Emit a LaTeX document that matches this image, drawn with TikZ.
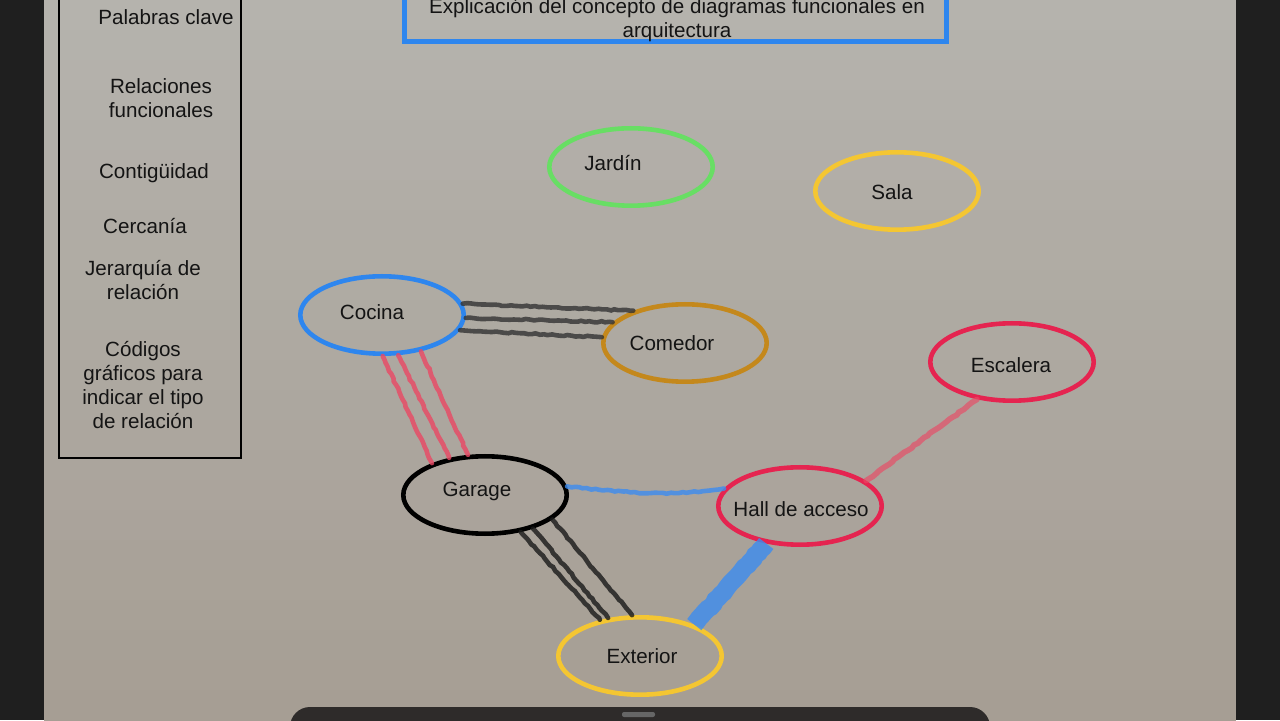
\documentclass[tikz,border=0pt]{standalone}
\usepackage{fontspec}
\setmainfont{Liberation Sans}
\usetikzlibrary{shapes.geometric,decorations.pathmorphing}

\definecolor{paperTop}{RGB}{181,179,173}
\definecolor{paperBot}{RGB}{166,158,148}
\definecolor{penBlue}{RGB}{46,134,238}
\definecolor{penGreen}{RGB}{104,222,100}
\definecolor{penYellow}{RGB}{244,198,50}
\definecolor{penBrown}{RGB}{196,136,28}
\definecolor{penRed}{RGB}{229,36,80}
\definecolor{crayonRed}{RGB}{234,72,100}
\definecolor{crayonBlue}{RGB}{60,140,240}
\definecolor{barGrey}{RGB}{46,43,42}

\begin{document}
\begin{tikzpicture}[x=0.5pt, y=-0.5pt, font=\fontsize{10.3}{12}\selectfont]
        \tikzstyle{room}=[ellipse,line width=2.3pt,minimum width=81.7pt,minimum height=38.7pt,inner sep=0pt]
        \tikzstyle{word}=[inner sep=0pt,align=center,text=black!92]
        \tikzstyle{crayon}=[line width=2.3pt,line cap=round,opacity=0.8,decorate,decoration={random steps,segment length=2pt,amplitude=0.35pt}]

        % sheet
        \fill[black!88] (0,0) rectangle (1280,720);
        \foreach \i in {0,...,23} {
            \pgfmathtruncatemacro{\pct}{100-\i*100/23}
            \fill[paperTop!\pct!paperBot] (44,\i*30) rectangle (1236,\i*30+31);
        }
        \useasboundingbox (0,0) rectangle (1280,720);
        \fill[barGrey, rounded corners=10pt] (290,707) rectangle (990,745);
        \fill[black!60, rounded corners=1pt] (622,712) rectangle (655,717);

        % key words and title
        \draw[line width=0.8pt] (59,-5) rectangle (241,458);
        \draw[penBlue, line width=2.5pt] (404,-5) rectangle (946,42);
        \node[word] (T_title) at (677,20) {Explicación del concepto de diagramas funcionales en\\[0pt]arquitectura};
        \node[word] (K_1) at (166,17) {Palabras clave};
        \node[word] (K_2) at (161,98) {Relaciones\\funcionales};
        \node[word] (K_3) at (154,173) {Contigüidad};
        \node[word] (K_4) at (145,226) {Cercanía};
        \node[word] (K_5) at (143,280) {Jerarquía de\\relación};
        \node[word] (K_6) at (143,385) {Códigos\\gráficos para\\indicar el tipo\\de relación};

        % rooms
        \node[room,draw=penGreen] (R_jardin) at (631,167) {};
        \node[room,draw=penYellow] (R_sala) at (897,191) {};
        \node[room,draw=penBlue] (R_cocina) at (382,315) {};
        \node[room,draw=penBrown] (R_comedor) at (685,343) {};
        \node[room,draw=penRed] (R_escalera) at (1012,362) {};
        \node[room,draw=black] (R_garage) at (485,495) {};
        \node[room,draw=penRed] (R_hall) at (800,506) {};
        \node[room,draw=penYellow] (R_exterior) at (640,656) {};

        \node[word] (T_jardin) at (613,163) {Jardín};
        \node[word] (T_sala) at (892,192) {Sala};
        \node[word] (T_cocina) at (372,312) {Cocina};
        \node[word] (T_comedor) at (672,343) {Comedor};
        \node[word] (T_escalera) at (1011,365) {Escalera};
        \node[word] (T_garage) at (477,491) {Garage};
        \node[word] (T_hall) at (801,509) {Hall de acceso};
        \node[word] (T_exterior) at (642,656) {Exterior};

        % relations
        \foreach \a/\b in {8/148, -2/164, -11/176}
            \draw[crayon, black!80] (R_cocina.\a) -- (R_comedor.\b);
        \foreach \a/\b in {-89/149, -68/134, -43/113}
            \draw[crayon, crayonRed] (R_cocina.\a) -- (R_garage.\b);
        \foreach \a/\b in {-46/138, -35/130, -20/101}
            \draw[crayon, black!90] (R_garage.\a) -- (R_exterior.\b);
        \draw[crayon, crayonBlue] (R_garage.6) to[out=-6, in=188] (R_hall.167);
        \draw[crayon, crayonBlue, line width=9pt, line cap=butt] (R_hall.-132) -- (R_exterior.30);
        \draw[crayon, crayonRed, opacity=0.65, line width=2.8pt] (R_hall.21) -- (R_escalera.-133);
\end{tikzpicture}
\end{document}
